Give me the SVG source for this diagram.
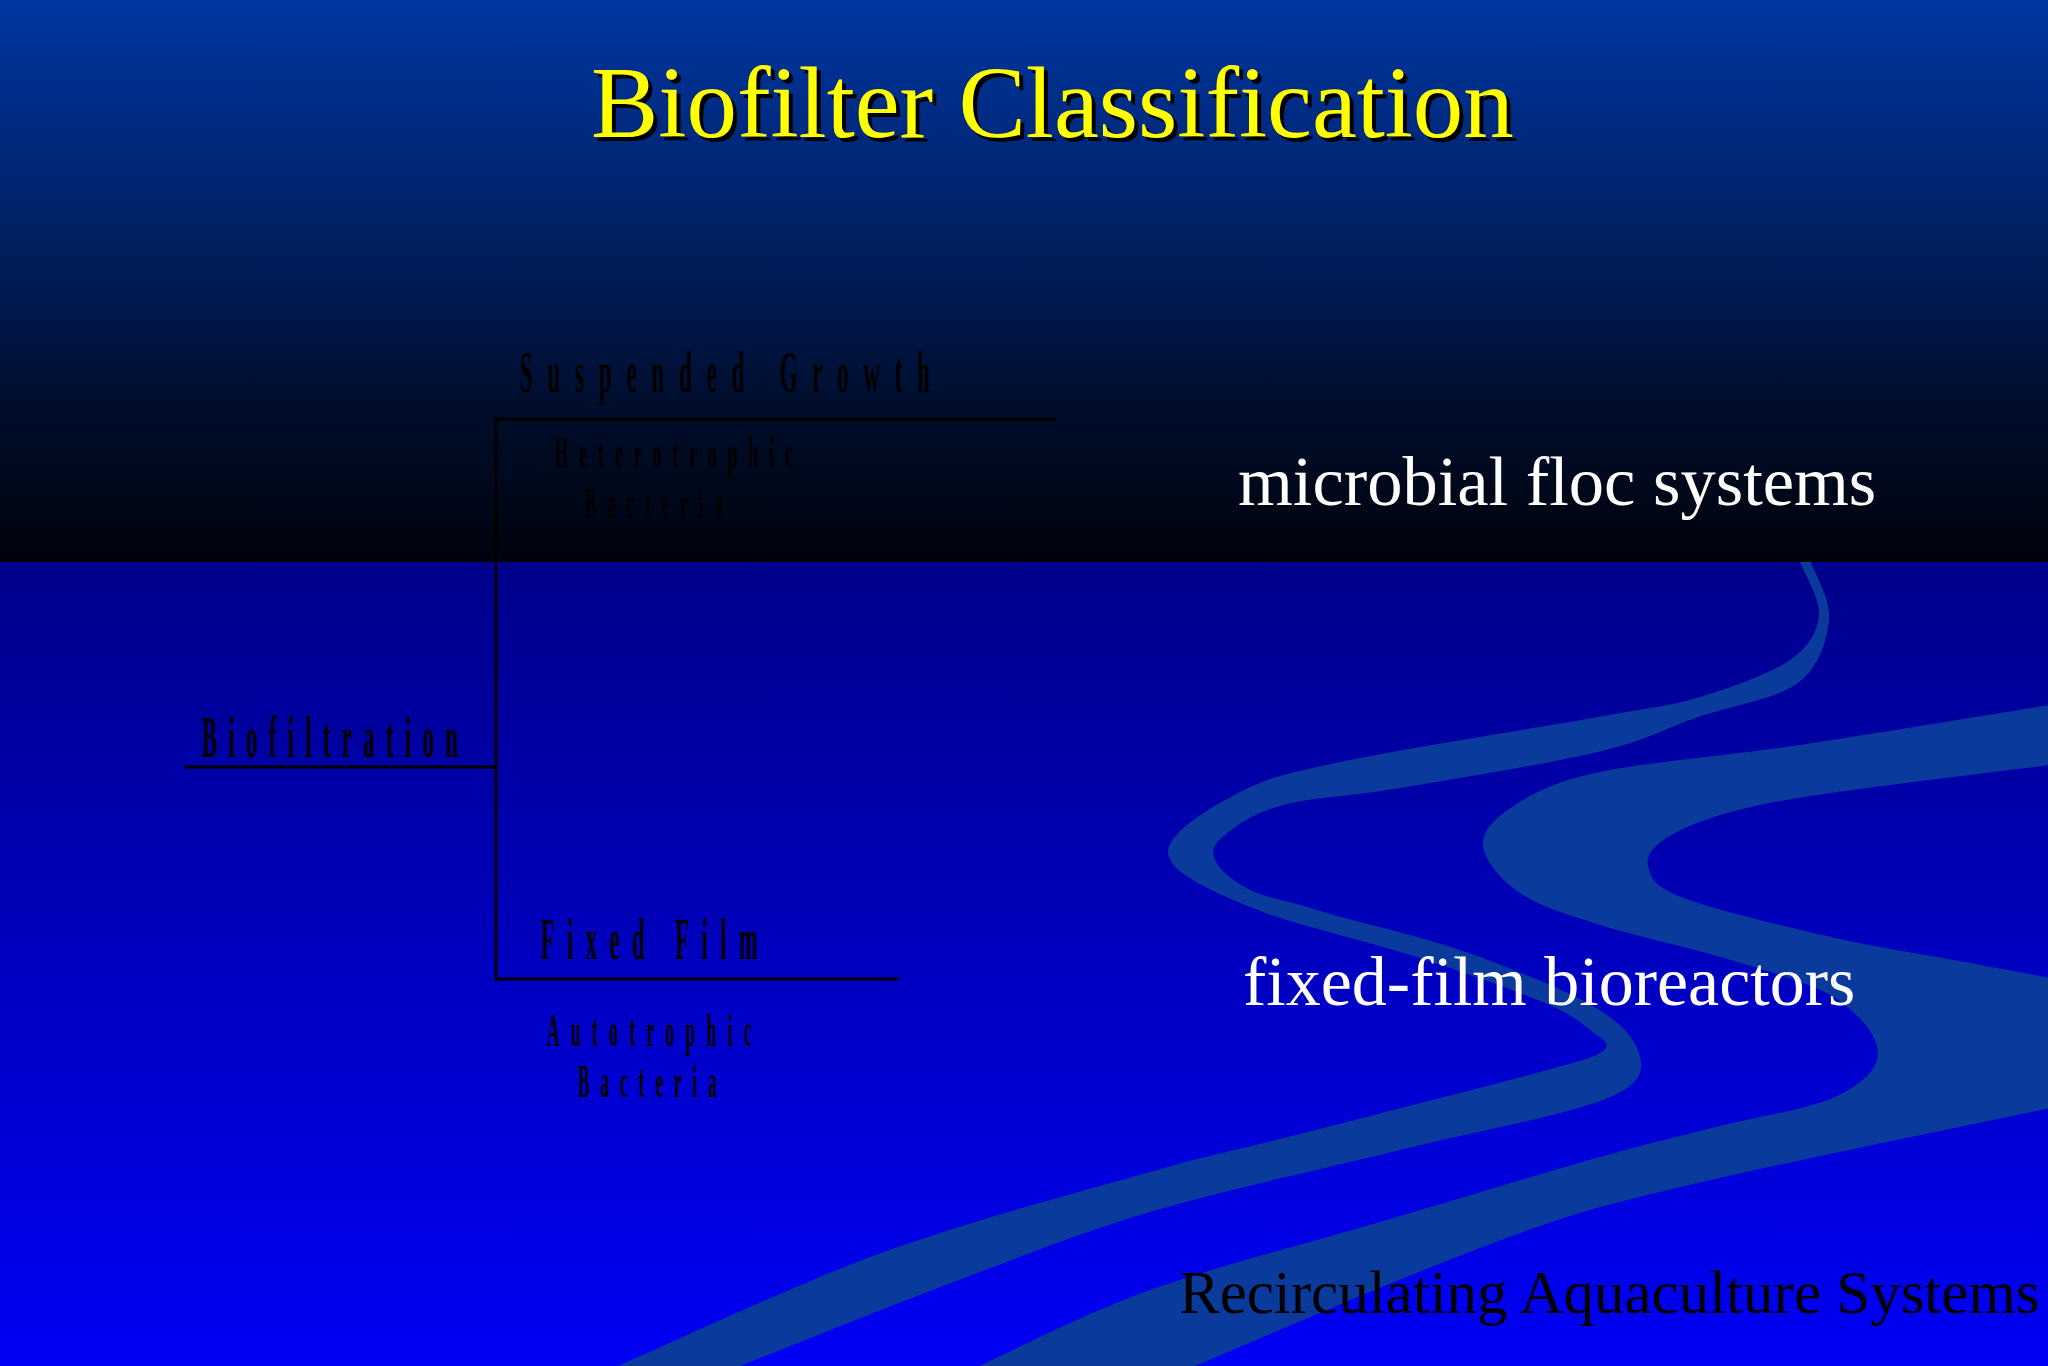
<svg xmlns="http://www.w3.org/2000/svg" width="2048" height="1366" viewBox="0 0 2048 1366">
<defs>
<linearGradient id="gTop" x1="0" y1="0" x2="0" y2="1">
<stop offset="0" stop-color="#0036a2"/>
<stop offset="0.35" stop-color="#00246e"/>
<stop offset="0.75" stop-color="#000c28"/>
<stop offset="1" stop-color="#00030c"/>
</linearGradient>
<linearGradient id="gBot" x1="0" y1="0" x2="0" y2="1">
<stop offset="0" stop-color="#00008a"/>
<stop offset="1" stop-color="#0000f6"/>
</linearGradient>
<style>
.ribbon{fill:#0a3a9c}
.lbl{font-family:"Liberation Serif","Times New Roman",serif;font-weight:bold;fill:#000}
.big{font-family:"Liberation Serif","Times New Roman",serif}
.conn line{stroke:#000;stroke-width:3;stroke-linecap:square}
</style>
</defs>
<rect x="0" y="0" width="2048" height="563" fill="url(#gTop)"/>
<rect x="0" y="562" width="2048" height="804" fill="url(#gBot)"/>
<g id="background-ribbons">
<path class="ribbon" d="M1800,562 C1803,571 1820.7,598.7 1819,615 C1817.3,631.3 1809.8,646.3 1790,660 C1770.2,673.7 1732,687.5 1700,697 C1668,706.5 1656.3,706.5 1598,717 C1539.7,727.5 1409.7,747.5 1350,760 C1290.3,772.5 1270.3,776.5 1240,792 C1209.7,807.5 1166.3,833.8 1168,853 C1169.7,872.2 1208.5,889.7 1250,907 C1291.5,924.3 1367.8,941 1417,957 C1466.2,973 1516.2,990.8 1545,1003 C1573.8,1015.2 1580.2,1022.2 1590,1030 C1599.8,1037.8 1612.3,1043 1604,1050 C1595.7,1057 1590.7,1058 1540,1072 C1489.3,1086 1365,1117.3 1300,1134 C1235,1150.7 1219.8,1152.2 1150,1172 C1080.2,1191.8 969.7,1220.7 881,1253 C792.3,1285.3 661.8,1347.2 618,1366 L740,1366 C775.2,1352.2 882.7,1308.7 951,1283 C1019.3,1257.3 1075.2,1234.2 1150,1212 C1224.8,1189.8 1323.7,1169 1400,1150 C1476.3,1131 1568.3,1114.7 1608,1098 C1647.7,1081.3 1642.7,1065.5 1638,1050 C1633.3,1034.5 1612,1015 1582,1000 C1552,985 1503.8,965 1460,950 C1416.2,935 1352,921 1317,910 C1282,899 1267,898 1250,890 C1233,881 1219.2,869.7 1215,860 C1210.8,850.3 1213.7,844.2 1225,835 C1236.3,825.8 1253.8,812.8 1283,805 C1312.2,797.2 1347.5,796.8 1400,788 C1452.5,779.2 1548.3,763.8 1598,752 C1647.7,740.2 1664.7,728.5 1698,717 C1731.3,705.5 1776.2,699.2 1798,683 C1819.8,666.8 1826.8,640.2 1829,620 C1831.2,599.8 1814,571.7 1811,562 Z"/>
<path class="ribbon" d="M2050,705 C2008.3,711.7 1875,733.8 1800,745 C1725,756.2 1647.5,762 1600,772 C1552.5,782 1534.5,792.8 1515,805 C1495.5,817.2 1482.2,830.3 1483,845 C1483.8,859.7 1500.5,879.7 1520,893 C1539.5,906.3 1564.8,913.8 1600,925 C1635.2,936.2 1691.8,947.8 1731,960 C1770.2,972.2 1810.5,982.5 1835,998 C1859.5,1013.5 1878,1036.5 1878,1053 C1878,1069.5 1861.3,1084.8 1835,1097 C1808.7,1109.2 1759.2,1116 1720,1126 C1680.8,1136 1656.7,1141 1600,1157 C1543.3,1173 1455,1199.8 1380,1222 C1305,1244.2 1216.8,1266 1150,1290 C1083.2,1314 1007.5,1353.3 979,1366 L1195,1366 C1350,1300 1500,1235 1600,1207 C1750,1168 1900,1140 2050,1108 L2050,978 C2035.8,975.3 2001.5,968.8 1965,962 C1928.5,955.2 1878.3,947.8 1831,937 C1783.7,926.2 1711.5,909 1681,897 C1650.5,885 1650.2,875 1648,865 C1645.8,855 1654.2,845.8 1668,837 C1681.8,828.2 1703.8,819.3 1731,812 C1758.2,804.7 1777.8,800.8 1831,793 C1884.2,785.2 2013.5,769.7 2050,765 Z"/>
</g>
<g id="title">
<text class="big" x="595" y="141" font-size="101" fill="#000">Biofilter Classification</text>
<text class="big" x="591" y="137" font-size="101" fill="#ffff00">Biofilter Classification</text>
</g>
<g id="connectors" class="conn">
<line x1="186" y1="767" x2="496" y2="767"/>
<line x1="496" y1="419" x2="496" y2="979"/>
<line x1="496" y1="419" x2="1054" y2="419"/>
<line x1="496" y1="979" x2="897" y2="979"/>
</g>
<g id="node-biofiltration">
<text class="lbl" transform="translate(202,757) scale(0.38,1)" font-size="60" textLength="674" lengthAdjust="spacing">Biofiltration</text>
</g>
<g id="node-suspended-growth">
<text class="lbl" transform="translate(520,392) scale(0.38,1)" font-size="60" textLength="1079" lengthAdjust="spacing">Suspended Growth</text>
<text class="lbl" transform="translate(555,468) scale(0.38,1)" font-size="45" textLength="626" lengthAdjust="spacing">Heterotrophic</text>
<text class="lbl" transform="translate(585,518) scale(0.38,1)" font-size="45" textLength="363" lengthAdjust="spacing">Bacteria</text>
</g>
<g id="node-fixed-film">
<text class="lbl" transform="translate(541,959) scale(0.38,1)" font-size="59" textLength="571" lengthAdjust="spacing">Fixed Film</text>
<text class="lbl" transform="translate(547,1046) scale(0.38,1)" font-size="46" textLength="539" lengthAdjust="spacing">Autotrophic</text>
<text class="lbl" transform="translate(578,1097) scale(0.38,1)" font-size="46" textLength="366" lengthAdjust="spacing">Bacteria</text>
</g>
<g id="node-microbial-floc">
<text class="big" x="1238" y="505" font-size="70.5" fill="#ffffff">microbial floc systems</text>
</g>
<g id="node-fixed-film-bioreactors">
<text class="big" x="1243" y="1005" font-size="70" fill="#ffffff">fixed-film bioreactors</text>
</g>
<g id="footer">
<text class="big" x="1179" y="1313" font-size="61" fill="#000">Recirculating Aquaculture Systems</text>
</g>
</svg>
